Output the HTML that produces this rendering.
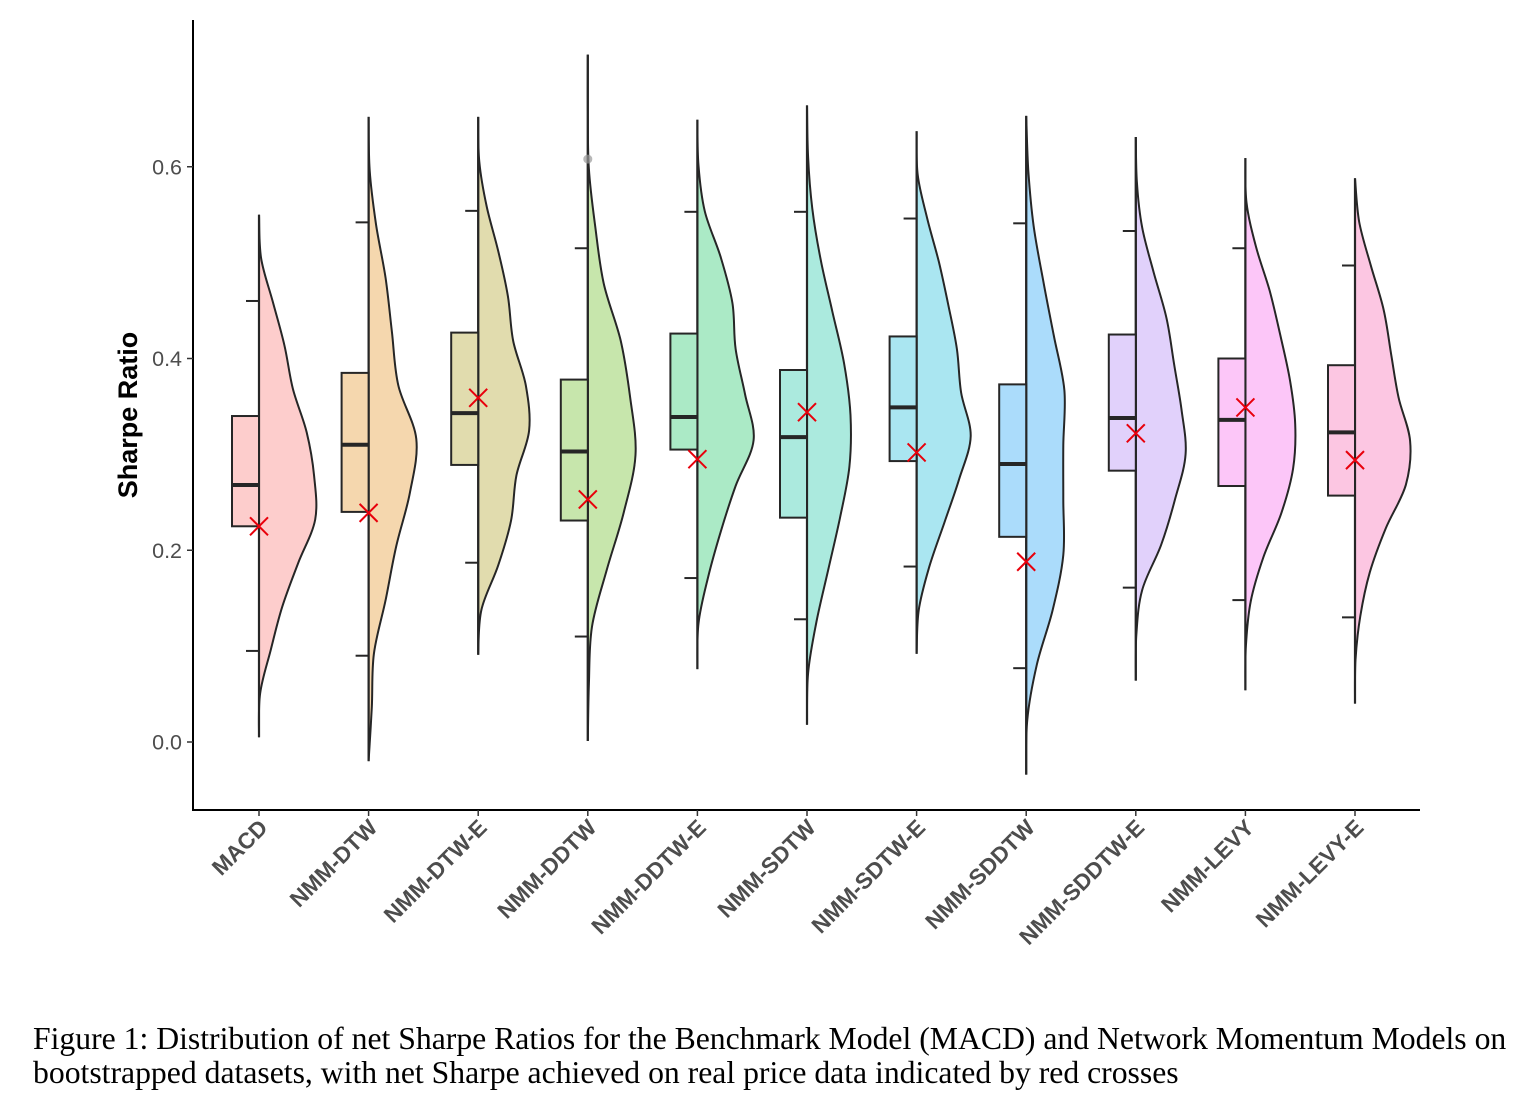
<!DOCTYPE html>
<html><head><meta charset="utf-8"><style>
html,body{margin:0;padding:0;background:#fff;width:1532px;height:1110px;overflow:hidden}
svg{display:block}
.cap{position:absolute;left:33px;font-family:"Liberation Serif",serif;font-size:31.7px;line-height:34px;color:#000;white-space:nowrap}
</style></head><body>
<svg id="chart" width="1532" height="1000" xmlns="http://www.w3.org/2000/svg"></svg>
<div class="cap" style="top:1022px">Figure 1: Distribution of net Sharpe Ratios for the Benchmark Model (MACD) and Network Momentum Models on</div>
<div class="cap" style="top:1056px">bootstrapped datasets, with net Sharpe achieved on real price data indicated by red crosses</div>
<script>
const categories=["MACD","NMM-DTW","NMM-DTW-E","NMM-DDTW","NMM-DDTW-E","NMM-SDTW","NMM-SDTW-E","NMM-SDDTW","NMM-SDDTW-E","NMM-LEVY","NMM-LEVY-E"];
const q1=[0.225,0.240,0.289,0.231,0.305,0.234,0.293,0.214,0.283,0.267,0.257];
const median=[0.268,0.310,0.343,0.303,0.339,0.318,0.349,0.290,0.338,0.336,0.323];
const q3=[0.340,0.385,0.427,0.378,0.426,0.388,0.423,0.373,0.425,0.400,0.393];
const whiskerLow=[0.095,0.090,0.187,0.110,0.171,0.128,0.183,0.077,0.161,0.148,0.130];
const whiskerHigh=[0.460,0.542,0.554,0.515,0.553,0.553,0.546,0.541,0.533,0.515,0.497];
const rangeMin=[0.005,-0.020,0.091,0.001,0.076,0.018,0.092,-0.034,0.064,0.054,0.040];
const rangeMax=[0.550,0.652,0.652,0.717,0.649,0.664,0.637,0.653,0.631,0.609,0.588];
const realSharpe=[0.225,0.239,0.359,0.253,0.295,0.344,0.302,0.188,0.322,0.349,0.294];
const outliers=[[],[],[],[0.608],[],[],[],[],[],[],[]];
const densities=[
[0,0.1,1.1,2.2,3.7,5.3,5.2,4.5,3.2,2.4,1.3,0.2,0],
[0,0.3,0.5,1.6,2.6,3.9,4.5,2.8,2.2,1.6,0.7,0.1,0],
[0,0.3,1.9,3.1,3.6,4.8,4.5,3.3,2.8,1.9,0.8,0.1,0],
[0,0.1,0.4,1.8,3.4,4.5,4.0,3.1,1.5,0.7,0.1,0,0],
[0,0.1,1.0,2.2,3.6,5.3,4.5,3.6,3.3,2.2,0.7,0.1,0],
[0,0.1,0.9,2.0,3.1,4.0,4.1,3.5,2.4,1.3,0.5,0.1,0],
[0,0.2,1.2,2.6,4.0,5.1,4.2,3.8,3.0,2.1,1.0,0.1,0],
[0,0.1,1.0,2.5,3.5,3.5,3.5,3.6,2.6,1.6,0.7,0.2,0],
[0,0.05,0.6,2.4,3.7,4.7,4.3,3.6,2.9,1.7,0.6,0.1,0],
[0,0.05,0.5,1.7,3.4,4.5,4.7,4.2,3.3,2.3,1.0,0.1,0],
[0,0.05,0.5,1.4,2.9,4.8,5.2,4.1,3.4,2.7,1.5,0.4,0]];
const colors=["#fdcdcc","#f5d7ae","#e1dcae","#c7e6ac","#abeac6","#abeade","#aae6f1","#abdcfb","#e1d1fb","#fcc6f8","#fcc6e2"];
const yTicks=[0.0,0.2,0.4,0.6];
const yTickLabels=["0.0","0.2","0.4","0.6"];

const NS="http://www.w3.org/2000/svg";
const svg=document.getElementById('chart');
const plotL=193,plotB=810;
const y=v=>742-v*958.75;
const x=i=>259+i*109.6;
const DSCALE=10.6;
function mk(tag,attrs,parent){const e=document.createElementNS(NS,tag);for(const k in attrs)e.setAttribute(k,attrs[k]);(parent||svg).appendChild(e);return e;}

const ax=mk('path',{d:`M${plotL},20 V${plotB} H1420`,fill:'none',stroke:'#000','stroke-width':2});


yTicks.forEach((t,i)=>{
  const tk=mk('line',{x1:187,x2:plotL,y1:y(t),y2:y(t),stroke:'#333','stroke-width':1.5});
  
  
  const tl=mk('text',{x:182,y:y(t)+7.5,'text-anchor':'end','font-family':'Liberation Sans, sans-serif','font-size':21.5,fill:'#4d4d4d'});
  tl.textContent=yTickLabels[i];
  
  
});
const yt=mk('text',{x:0,y:0,transform:'translate(137,415) rotate(-90)','text-anchor':'middle','font-family':'Liberation Sans, sans-serif','font-size':27,'font-weight':'bold',fill:'#000'});
yt.textContent='Sharpe Ratio';



function smooth(pts){
  let d=`M${pts[0][0]},${pts[0][1]}`;
  for(let i=0;i<pts.length-1;i++){
    const p0=pts[Math.max(0,i-1)],p1=pts[i],p2=pts[i+1],p3=pts[Math.min(pts.length-1,i+2)];
    const c1=[p1[0]+(p2[0]-p0[0])/6,p1[1]+(p2[1]-p0[1])/6];
    const c2=[p2[0]-(p3[0]-p1[0])/6,p2[1]-(p3[1]-p1[1])/6];
    d+=` C${c1[0].toFixed(1)},${c1[1].toFixed(1)} ${c2[0].toFixed(1)},${c2[1].toFixed(1)} ${p2[0].toFixed(1)},${p2[1].toFixed(1)}`;
  }
  return d;
}

categories.forEach((c,i)=>{
  const cx=x(i);
  const g=mk('g',{});
  
  
  const dens=densities[i],n=dens.length,step=(rangeMax[i]-rangeMin[i])/(n-1);
  const pts=dens.map((d,k)=>[cx+d*DSCALE,y(rangeMin[i]+k*step)]);
  const vp=mk('path',{d:smooth(pts)+` L${cx},${y(rangeMax[i])} L${cx},${y(rangeMin[i])} Z`,fill:colors[i],stroke:'#262626','stroke-width':2},g);
  
  
  const rl=mk('line',{x1:cx,x2:cx,y1:y(rangeMin[i]),y2:y(rangeMax[i]),stroke:'#262626','stroke-width':2.2},g);
  
  
  const bx=mk('rect',{x:cx-27,y:y(q3[i]),width:27,height:y(q1[i])-y(q3[i]),fill:colors[i],stroke:'#262626','stroke-width':2},g);
  
  
  const md=mk('line',{x1:cx-27,x2:cx,y1:y(median[i]),y2:y(median[i]),stroke:'#262626','stroke-width':4},g);
  
  
  [whiskerLow[i],whiskerHigh[i]].forEach(w=>{
    const wl=mk('line',{x1:cx-13,x2:cx,y1:y(w),y2:y(w),stroke:'#262626','stroke-width':2},g);
    
    
  });
  outliers[i].forEach(o=>{
    const oc=mk('circle',{cx:cx,cy:y(o),r:4.5,fill:'#999','fill-opacity':0.7},g);
    
    
  });
  const ry=y(realSharpe[i]);
  const cr=mk('path',{d:`M${cx-9},${ry-9} L${cx+9},${ry+9} M${cx-9},${ry+9} L${cx+9},${ry-9}`,stroke:'#e8000b','stroke-width':2,fill:'none'},g);
  
  
  const xt=mk('line',{x1:cx,x2:cx,y1:plotB,y2:plotB+6,stroke:'#333','stroke-width':1.5},g);
  
  
  const lb=mk('text',{x:0,y:0,transform:`translate(${cx+10},${plotB+19}) rotate(-45)`,'text-anchor':'end','font-family':'Liberation Sans, sans-serif','font-size':22.5,'font-weight':'bold',fill:'#4d4d4d'},g);
  lb.textContent=c;
  
  
});
</script>
</body></html>
